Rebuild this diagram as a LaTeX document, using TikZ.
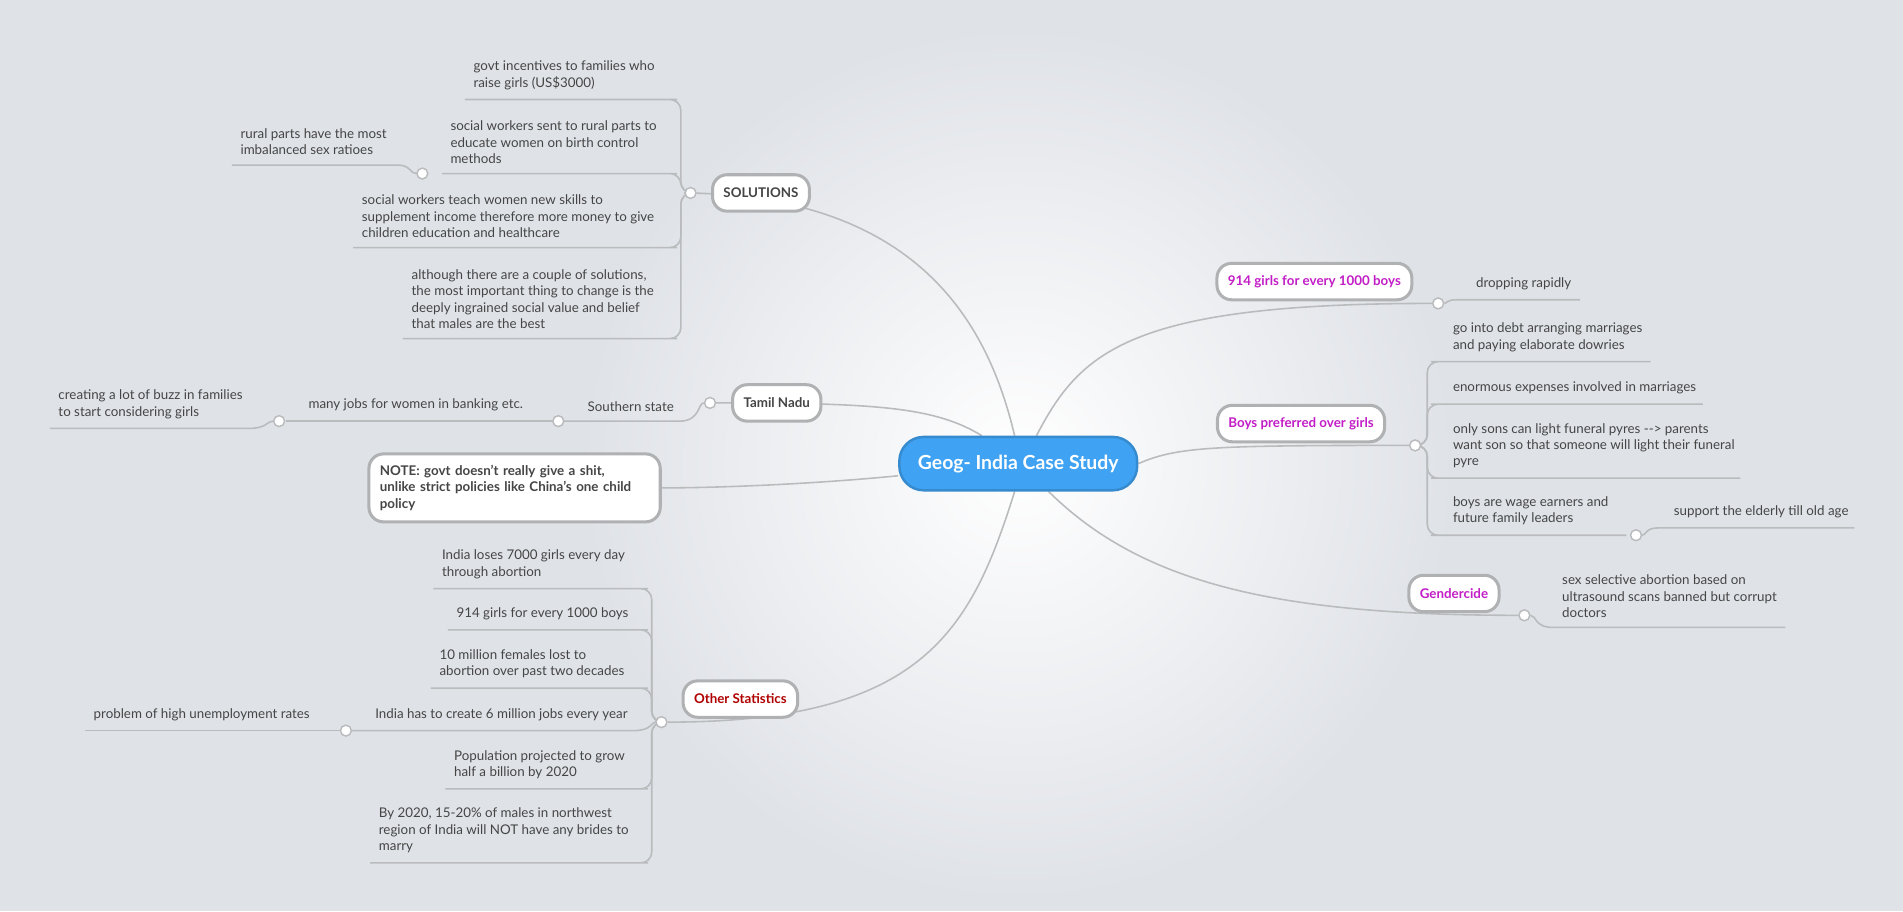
\documentclass[tikz,border=0pt]{standalone}
\usepackage{fontspec}
\setmainfont{Lato}
\usetikzlibrary{backgrounds}
\definecolor{bgc}{HTML}{DFE2E7}
\definecolor{lnc}{HTML}{B9BBBD}
\definecolor{txc}{HTML}{454545}
\definecolor{bluec}{HTML}{3FA2F2}
\definecolor{magc}{HTML}{C21DC6}
\definecolor{redc}{HTML}{B00000}
\tikzset{
 topic/.style={draw=lnc!90!black!90, line width=2.5pt, fill=white, rounded corners=12pt, font=\fontsize{11}{13.5}\selectfont\bfseries, text=txc, inner xsep=9pt, minimum height=30pt},
 leaf/.style={anchor=south west, inner sep=0pt, align=left, text=txc, font=\fontsize{11}{13.5}\selectfont},
 ln/.style={draw=lnc, line width=1.3pt},
 jn/.style={circle, draw=lnc, line width=1.2pt, fill=white, inner sep=0pt, minimum size=9pt},
}
\begin{document}
\begin{tikzpicture}[x=1pt,y=-1pt]
\useasboundingbox (0,0) rectangle (1568,751);
\begin{scope}[on background layer]
\fill[bgc] (0,0) rectangle (1568,751);
\shade[inner color=white, outer color=bgc] (839,382) circle (360);
\end{scope}
% topics
\node[draw=bluec!85!black, line width=2pt, fill=bluec, rounded corners=20pt, text=white, font=\fontsize{16}{19}\selectfont\bfseries, minimum width=196pt, minimum height=44pt] (c) at (839,382) {Geog- India Case Study};
\node[topic] (sol) at (627,159) {SOLUTIONS};
\node[topic] (tam) at (640,332) {Tamil Nadu};
\node[topic, align=left, text width=222pt, minimum height=56pt] (note) at (424,402) {NOTE: govt doesn't really give a shit,\\unlike strict policies like China's one child\\policy};
\node[topic, text=redc] (oth) at (610,576) {Other Statistics};
\node[topic, text=magc] (g914) at (1083,232) {914 girls for every 1000 boys};
\node[topic, text=magc] (boy) at (1072,349) {Boys preferred over girls};
\node[topic, text=magc] (gen) at (1198,489) {Gendercide};
% junctions
\node[jn] (jsol) at (569,159) {};
\node[jn] (jrur) at (348,143) {};
\node[jn] (jtam) at (585,332) {};
\node[jn] (jsou) at (460,347) {};
\node[jn] (jjob) at (230,347) {};
\node[jn] (joth) at (545,595) {};
\node[jn] (jind) at (285,602) {};
\node[jn] (j914) at (1185,250) {};
\node[jn] (jboy) at (1166,367) {};
\node[jn] (jwag) at (1348,441) {};
\node[jn] (jgen) at (1256,507) {};
% leaves
\node[leaf] (s1) at (390,74) {govt incentives to families who\\raise girls (US\$3000)};
\node[leaf] (s2) at (371,135) {social workers sent to rural parts to\\educate women on birth control\\methods};
\node[leaf] (s2a) at (198,128) {rural parts have the most\\imbalanced sex ratioes};
\node[leaf] (s3) at (298,196) {social workers teach women new skills to\\supplement income therefore more money to give\\children education and healthcare};
\node[leaf] (s4) at (339,271) {although there are a couple of solutions,\\the most important thing to change is the\\deeply ingrained social value and belief\\that males are the best};
\node[leaf] (t1) at (484,339) {Southern state};
\node[leaf] (t2) at (254,339) {many jobs for women in banking etc.};
\node[leaf] (t3) at (48,345) {creating a lot of buzz in families\\to start considering girls};
\node[leaf] (o1) at (364,477) {India loses 7000 girls every day\\through abortion};
\node[leaf] (o2) at (376,511) {914 girls for every 1000 boys};
\node[leaf] (o3) at (362,559) {10 million females lost to\\abortion over past two decades};
\node[leaf] (o4) at (309,594) {India has to create 6 million jobs every year};
\node[leaf] (o4a) at (77,594) {problem of high unemployment rates};
\node[leaf] (o5) at (374,642) {Population projected to grow\\half a billion by 2020};
\node[leaf] (o6) at (312,703) {By 2020, 15-20\% of males in northwest\\region of India will NOT have any brides to\\marry};
\node[leaf] (r1) at (1216,239) {dropping rapidly};
\node[leaf] (b1) at (1197,290) {go into debt arranging marriages\\and paying elaborate dowries};
\node[leaf] (b2) at (1197,325) {enormous expenses involved in marriages};
\node[leaf] (b3) at (1197,386) {only sons can light funeral pyres {-}{-}> parents\\want son so that someone will light their funeral\\pyre};
\node[leaf] (b4) at (1197,433) {boys are wage earners and\\future family leaders};
\node[leaf] (b4a) at (1379,427) {support the elderly till old age};
\node[leaf] (g1) at (1287,509) {sex selective abortion based on\\ultrasound scans banned but corrupt\\doctors};
\begin{scope}[on background layer]
% main connectors
\draw[ln] (c.north) ++(-3,0) .. controls (815,270) and (760,165) .. (jsol);
\draw[ln] (c.north) ++(15,0) .. controls (890,290) and (930,250) .. (j914);
\draw[ln] (c.east) .. controls (970,368) and (1000,367) .. (jboy);
\draw[ln] (c.south) ++(25,0) .. controls (940,480) and (1050,507) .. (jgen);
\draw[ln] (c.north) ++(-30,0) .. controls (770,335) and (720,332) .. (jtam);
\draw[ln] (c.west) ++(0,10) .. controls (680,398) and (600,402) .. (note.east);
\draw[ln] (c.south) ++(-3,0) .. controls (800,520) and (760,595) .. (joth);
\begin{scope}[rounded corners=9pt]
\draw[ln] (jsol) -- (561,159) |- (549,82) -- (383,82);
\draw[ln] (jsol) -- (561,159) |- (549,143) -- (364,143);
\draw[ln] (jsol) -- (561,159) |- (549,204) -- (291,204);
\draw[ln] (jsol) -- (561,159) |- (549,279) -- (332,279);
\draw[ln] (joth) -- (537,595) |- (525,485) -- (357,485);
\draw[ln] (joth) -- (537,595) |- (525,519) -- (369,519);
\draw[ln] (joth) -- (537,595) |- (525,567) -- (355,567);
\draw[ln] (joth) -- (537,595) |- (525,650) -- (367,650);
\draw[ln] (joth) -- (537,595) |- (525,711) -- (305,711);
\draw[ln] (jboy) -- (1176,367) |- (1188,298) -- (1360,298);
\draw[ln] (jboy) -- (1176,367) |- (1188,333) -- (1403,333);
\draw[ln] (jboy) -- (1176,367) |- (1188,394) -- (1434,394);
\draw[ln] (jboy) -- (1176,367) |- (1188,441) -- (1340,441);
\end{scope}
\draw[ln] (jrur) .. controls (338,143) and (338,136) .. (328,136) -- (191,136);
\draw[ln] (jtam) .. controls (575,332) and (577,347) .. (560,347) -- (453,347);
\draw[ln] (jsou) -- (236,347);
\draw[ln] (jjob) .. controls (220,347) and (220,353) .. (205,353) -- (41,353);
\draw[ln] (joth) .. controls (537,595) and (537,602) .. (522,602) -- (290,602);
\draw[ln] (jind) -- (70,602);
\draw[ln] (j914) .. controls (1192,250) and (1192,247) .. (1200,247) -- (1302,247);
\draw[ln] (jwag) .. controls (1356,441) and (1356,435) .. (1366,435) -- (1528,435);
\draw[ln] (jgen) .. controls (1266,507) and (1264,517) .. (1280,517) -- (1471,517);
\end{scope}
\end{tikzpicture}
\end{document}
